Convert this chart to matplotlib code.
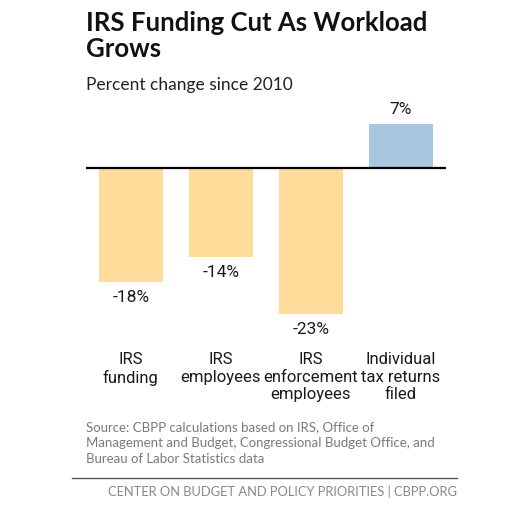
import matplotlib.pyplot as plt
import numpy as np

categories = ['IRS\nfunding', 'IRS\nemployees', 'IRS\nenforcement\nemployees',
              'Individual\ntax returns\nfiled']
values = [-18, -14, -23, 7]
labels = ['-18%', '-14%', '-23%', '7%']
colors = ['#fddb99', '#fddb99', '#fddb99', '#a9c7e0']

plt.rcParams['font.family'] = ['Lato', 'DejaVu Sans']
narrow = ['Roboto', 'DejaVu Sans']

fig = plt.figure(figsize=(5.3, 5.13), dpi=100)
ax = fig.add_axes([86/530, 1 - 330/513, 360/530, 230/513])

x = np.arange(len(values))
ax.bar(x, values, width=0.72, color=colors)
ax.axhline(0, color='black', lw=1.6)
ax.set_xlim(-0.5, 3.5)
ax.set_ylim(-25.5, 10.7)
ax.axis('off')

for xi, v, lab in zip(x, values, labels):
    off = -1.2 if v < 0 else 1.0
    ax.text(xi, v + off, lab, ha='center', va='top' if v < 0 else 'bottom',
            fontsize=12.5, color='#1a1a1a', family=narrow)

for xi, cat in zip(x, categories):
    fig.text((86 + 44.5 + 90 * xi) / 530, 1 - 352/513, cat, ha='center', va='top',
             fontsize=12, color='#1a1a1a', linespacing=1.22, family=narrow)

fig.text(86/530, 1 - 11/513, 'IRS Funding Cut As Workload\nGrows', ha='left', va='top',
         fontsize=18.5, fontweight='bold', color='#111111', linespacing=1.08)
fig.text(86/530, 1 - 85/513, 'Percent change since 2010', ha='left', va='center',
         fontsize=12.5, color='#222222')

fig.text(86/530, 1 - 421/513,
         'Source: CBPP calculations based on IRS, Office of\n'
         'Management and Budget, Congressional Budget Office, and\n'
         'Bureau of Labor Statistics data',
         ha='left', va='top', fontsize=9.5, color='#7a7a7a', linespacing=1.42)

fig.add_artist(plt.Line2D([72/530, 457/530], [1 - 478/513, 1 - 478/513],
                          color='#555555', lw=1))
fig.text(457/530, 1 - 492/513, 'CENTER ON BUDGET AND POLICY PRIORITIES | CBPP.ORG',
         ha='right', va='center', fontsize=9.3, color='#888888')

fig.savefig('out.png', dpi=100)
